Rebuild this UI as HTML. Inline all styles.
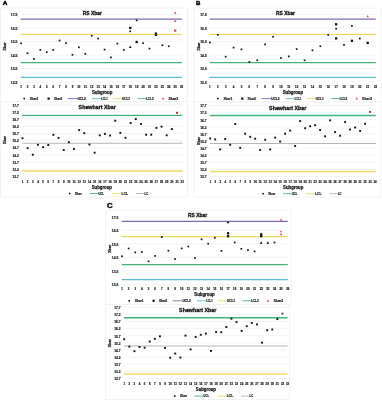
<!DOCTYPE html><html><head><meta charset="utf-8"><style>html,body{margin:0;padding:0;background:#fff;}svg{display:block;filter:blur(0.3px);}</style></head><body><svg width="382" height="400" viewBox="0 0 382 400" style="font-family:'Liberation Sans', sans-serif">
<rect width="382" height="400" fill="#fff"/>
<text x="2.70" y="5.20" font-size="5.4" font-weight="bold" fill="#111" stroke="#111" stroke-width="0.5" textLength="4.60" lengthAdjust="spacingAndGlyphs">A</text>
<text x="195.90" y="5.40" font-size="5.6" font-weight="bold" fill="#111" stroke="#111" stroke-width="0.5" textLength="4.40" lengthAdjust="spacingAndGlyphs">B</text>
<text x="107.00" y="208.00" font-size="6.4" font-weight="bold" fill="#111" stroke="#111" stroke-width="0.5" textLength="5.60" lengthAdjust="spacingAndGlyphs">C</text>
<rect x="0.50" y="8.00" width="187.10" height="93.70" fill="none" stroke="#f1f1f1" stroke-width="0.8"/>
<line x1="20.80" y1="14.60" x2="181.90" y2="14.60" stroke="#f0f0f0" stroke-width="0.8"/>
<text x="10.80" y="16.40" font-size="3.7" font-weight="bold" fill="#2a2a2a" stroke="#2a2a2a" stroke-width="0.22" textLength="6.60" lengthAdjust="spacingAndGlyphs">17.5</text>
<line x1="20.80" y1="28.10" x2="181.90" y2="28.10" stroke="#f0f0f0" stroke-width="0.8"/>
<text x="10.80" y="29.90" font-size="3.7" font-weight="bold" fill="#2a2a2a" stroke="#2a2a2a" stroke-width="0.22" textLength="6.60" lengthAdjust="spacingAndGlyphs">16.5</text>
<line x1="20.80" y1="41.60" x2="181.90" y2="41.60" stroke="#f0f0f0" stroke-width="0.8"/>
<text x="10.80" y="43.40" font-size="3.7" font-weight="bold" fill="#2a2a2a" stroke="#2a2a2a" stroke-width="0.22" textLength="6.60" lengthAdjust="spacingAndGlyphs">15.5</text>
<line x1="20.80" y1="55.10" x2="181.90" y2="55.10" stroke="#f0f0f0" stroke-width="0.8"/>
<text x="10.80" y="56.90" font-size="3.7" font-weight="bold" fill="#2a2a2a" stroke="#2a2a2a" stroke-width="0.22" textLength="6.60" lengthAdjust="spacingAndGlyphs">14.5</text>
<line x1="20.80" y1="68.60" x2="181.90" y2="68.60" stroke="#f0f0f0" stroke-width="0.8"/>
<text x="10.80" y="70.40" font-size="3.7" font-weight="bold" fill="#2a2a2a" stroke="#2a2a2a" stroke-width="0.22" textLength="6.60" lengthAdjust="spacingAndGlyphs">13.5</text>
<line x1="20.80" y1="82.10" x2="181.90" y2="82.10" stroke="#f0f0f0" stroke-width="0.8"/>
<text x="10.80" y="83.90" font-size="3.7" font-weight="bold" fill="#2a2a2a" stroke="#2a2a2a" stroke-width="0.22" textLength="6.60" lengthAdjust="spacingAndGlyphs">12.5</text>
<line x1="20.80" y1="19.10" x2="181.90" y2="19.10" stroke="#7a6cae" stroke-width="1.25"/>
<line x1="20.80" y1="34.40" x2="181.90" y2="34.40" stroke="#f0d868" stroke-width="1.4"/>
<line x1="20.80" y1="62.50" x2="181.90" y2="62.50" stroke="#48b07c" stroke-width="1.25"/>
<line x1="20.80" y1="77.40" x2="181.90" y2="77.40" stroke="#58bcd4" stroke-width="1.25"/>
<text x="20.30" y="88.00" font-size="3.5" font-weight="bold" fill="#2a2a2a" stroke="#2a2a2a" stroke-width="0.22" textLength="1.60" lengthAdjust="spacingAndGlyphs">1</text>
<text x="26.72" y="88.00" font-size="3.5" font-weight="bold" fill="#2a2a2a" stroke="#2a2a2a" stroke-width="0.22" textLength="1.60" lengthAdjust="spacingAndGlyphs">2</text>
<text x="33.14" y="88.00" font-size="3.5" font-weight="bold" fill="#2a2a2a" stroke="#2a2a2a" stroke-width="0.22" textLength="1.60" lengthAdjust="spacingAndGlyphs">3</text>
<text x="39.56" y="88.00" font-size="3.5" font-weight="bold" fill="#2a2a2a" stroke="#2a2a2a" stroke-width="0.22" textLength="1.60" lengthAdjust="spacingAndGlyphs">4</text>
<text x="45.98" y="88.00" font-size="3.5" font-weight="bold" fill="#2a2a2a" stroke="#2a2a2a" stroke-width="0.22" textLength="1.60" lengthAdjust="spacingAndGlyphs">5</text>
<text x="52.40" y="88.00" font-size="3.5" font-weight="bold" fill="#2a2a2a" stroke="#2a2a2a" stroke-width="0.22" textLength="1.60" lengthAdjust="spacingAndGlyphs">6</text>
<text x="58.82" y="88.00" font-size="3.5" font-weight="bold" fill="#2a2a2a" stroke="#2a2a2a" stroke-width="0.22" textLength="1.60" lengthAdjust="spacingAndGlyphs">7</text>
<text x="65.24" y="88.00" font-size="3.5" font-weight="bold" fill="#2a2a2a" stroke="#2a2a2a" stroke-width="0.22" textLength="1.60" lengthAdjust="spacingAndGlyphs">8</text>
<text x="71.66" y="88.00" font-size="3.5" font-weight="bold" fill="#2a2a2a" stroke="#2a2a2a" stroke-width="0.22" textLength="1.60" lengthAdjust="spacingAndGlyphs">9</text>
<text x="77.28" y="88.00" font-size="3.5" font-weight="bold" fill="#2a2a2a" stroke="#2a2a2a" stroke-width="0.22" textLength="3.20" lengthAdjust="spacingAndGlyphs">10</text>
<text x="83.70" y="88.00" font-size="3.5" font-weight="bold" fill="#2a2a2a" stroke="#2a2a2a" stroke-width="0.22" textLength="3.20" lengthAdjust="spacingAndGlyphs">11</text>
<text x="90.12" y="88.00" font-size="3.5" font-weight="bold" fill="#2a2a2a" stroke="#2a2a2a" stroke-width="0.22" textLength="3.20" lengthAdjust="spacingAndGlyphs">12</text>
<text x="96.54" y="88.00" font-size="3.5" font-weight="bold" fill="#2a2a2a" stroke="#2a2a2a" stroke-width="0.22" textLength="3.20" lengthAdjust="spacingAndGlyphs">13</text>
<text x="102.96" y="88.00" font-size="3.5" font-weight="bold" fill="#2a2a2a" stroke="#2a2a2a" stroke-width="0.22" textLength="3.20" lengthAdjust="spacingAndGlyphs">14</text>
<text x="109.38" y="88.00" font-size="3.5" font-weight="bold" fill="#2a2a2a" stroke="#2a2a2a" stroke-width="0.22" textLength="3.20" lengthAdjust="spacingAndGlyphs">15</text>
<text x="115.80" y="88.00" font-size="3.5" font-weight="bold" fill="#2a2a2a" stroke="#2a2a2a" stroke-width="0.22" textLength="3.20" lengthAdjust="spacingAndGlyphs">16</text>
<text x="122.22" y="88.00" font-size="3.5" font-weight="bold" fill="#2a2a2a" stroke="#2a2a2a" stroke-width="0.22" textLength="3.20" lengthAdjust="spacingAndGlyphs">17</text>
<text x="128.64" y="88.00" font-size="3.5" font-weight="bold" fill="#2a2a2a" stroke="#2a2a2a" stroke-width="0.22" textLength="3.20" lengthAdjust="spacingAndGlyphs">18</text>
<text x="135.06" y="88.00" font-size="3.5" font-weight="bold" fill="#2a2a2a" stroke="#2a2a2a" stroke-width="0.22" textLength="3.20" lengthAdjust="spacingAndGlyphs">19</text>
<text x="141.48" y="88.00" font-size="3.5" font-weight="bold" fill="#2a2a2a" stroke="#2a2a2a" stroke-width="0.22" textLength="3.20" lengthAdjust="spacingAndGlyphs">20</text>
<text x="147.90" y="88.00" font-size="3.5" font-weight="bold" fill="#2a2a2a" stroke="#2a2a2a" stroke-width="0.22" textLength="3.20" lengthAdjust="spacingAndGlyphs">21</text>
<text x="154.32" y="88.00" font-size="3.5" font-weight="bold" fill="#2a2a2a" stroke="#2a2a2a" stroke-width="0.22" textLength="3.20" lengthAdjust="spacingAndGlyphs">22</text>
<text x="160.74" y="88.00" font-size="3.5" font-weight="bold" fill="#2a2a2a" stroke="#2a2a2a" stroke-width="0.22" textLength="3.20" lengthAdjust="spacingAndGlyphs">23</text>
<text x="167.16" y="88.00" font-size="3.5" font-weight="bold" fill="#2a2a2a" stroke="#2a2a2a" stroke-width="0.22" textLength="3.20" lengthAdjust="spacingAndGlyphs">24</text>
<text x="173.58" y="88.00" font-size="3.5" font-weight="bold" fill="#2a2a2a" stroke="#2a2a2a" stroke-width="0.22" textLength="3.20" lengthAdjust="spacingAndGlyphs">25</text>
<text x="180.00" y="88.00" font-size="3.5" font-weight="bold" fill="#2a2a2a" stroke="#2a2a2a" stroke-width="0.22" textLength="3.20" lengthAdjust="spacingAndGlyphs">26</text>
<text x="82.80" y="14.60" font-size="5.6" font-weight="bold" fill="#111" stroke="#111" stroke-width="0.3" textLength="19.00" lengthAdjust="spacingAndGlyphs">RS Xbar</text>
<text x="0" y="0" font-size="4.3" font-weight="bold" fill="#2a2a2a" stroke="#2a2a2a" stroke-width="0.3" textLength="8.00" lengthAdjust="spacingAndGlyphs" transform="translate(5.70,50.40) rotate(-90)">Xbar</text>
<text x="91.90" y="94.00" font-size="5.1" font-weight="bold" fill="#111" stroke="#111" stroke-width="0.25" textLength="20.40" lengthAdjust="spacingAndGlyphs">Subgroup</text>
<rect x="20.25" y="42.45" width="1.70" height="1.70" fill="#111"/>
<rect x="26.67" y="52.35" width="1.70" height="1.70" fill="#111"/>
<rect x="33.09" y="58.15" width="1.70" height="1.70" fill="#111"/>
<rect x="39.51" y="49.05" width="1.70" height="1.70" fill="#111"/>
<rect x="45.93" y="51.35" width="1.70" height="1.70" fill="#111"/>
<rect x="52.35" y="49.05" width="1.70" height="1.70" fill="#111"/>
<rect x="58.77" y="39.65" width="1.70" height="1.70" fill="#111"/>
<rect x="65.19" y="42.25" width="1.70" height="1.70" fill="#111"/>
<rect x="71.61" y="53.95" width="1.70" height="1.70" fill="#111"/>
<rect x="78.03" y="46.45" width="1.70" height="1.70" fill="#111"/>
<rect x="84.45" y="52.95" width="1.70" height="1.70" fill="#111"/>
<rect x="90.87" y="34.85" width="1.70" height="1.70" fill="#111"/>
<rect x="97.29" y="37.75" width="1.70" height="1.70" fill="#111"/>
<rect x="103.71" y="48.75" width="1.70" height="1.70" fill="#111"/>
<rect x="110.13" y="56.55" width="1.70" height="1.70" fill="#111"/>
<rect x="116.55" y="42.75" width="1.70" height="1.70" fill="#111"/>
<rect x="122.97" y="49.05" width="1.70" height="1.70" fill="#111"/>
<rect x="129.09" y="26.75" width="2.30" height="2.30" fill="#111"/>
<rect x="129.39" y="30.45" width="1.70" height="1.70" fill="#111"/>
<path d="M130.24 45.60L131.64 48.12L128.84 48.12Z" fill="#111"/>
<rect x="135.81" y="19.55" width="1.70" height="1.70" fill="#111"/>
<rect x="135.51" y="40.85" width="2.30" height="2.30" fill="#111"/>
<rect x="142.23" y="42.25" width="1.70" height="1.70" fill="#111"/>
<rect x="148.65" y="47.75" width="1.70" height="1.70" fill="#111"/>
<rect x="154.77" y="32.45" width="2.30" height="2.30" fill="#111"/>
<path d="M155.92 33.40L157.32 35.92L154.52 35.92Z" fill="#111"/>
<rect x="161.49" y="44.40" width="1.70" height="1.70" fill="#111"/>
<rect x="167.91" y="45.40" width="1.70" height="1.70" fill="#111"/>
<path d="M175.18 11.55L176.38 13.71L173.98 13.71Z" fill="#d8404a"/>
<path d="M175.18 19.80L176.38 21.96L173.98 21.96Z" fill="#d8404a"/>
<rect x="174.08" y="29.50" width="2.20" height="2.20" fill="#d8404a"/>
<rect x="23.40" y="97.80" width="1.60" height="1.60" fill="#111"/>
<text x="29.70" y="99.90" font-size="3.5" font-weight="bold" fill="#2a2a2a" stroke="#2a2a2a" stroke-width="0.22" textLength="8.90" lengthAdjust="spacingAndGlyphs">Xbar1</text>
<rect x="47.50" y="97.50" width="2.20" height="2.20" fill="#111"/>
<text x="53.90" y="99.90" font-size="3.5" font-weight="bold" fill="#2a2a2a" stroke="#2a2a2a" stroke-width="0.22" textLength="8.40" lengthAdjust="spacingAndGlyphs">Xbar2</text>
<line x1="67.60" y1="98.60" x2="77.50" y2="98.60" stroke="#7a6cae" stroke-width="0.9"/>
<text x="77.50" y="99.90" font-size="3.5" font-weight="bold" fill="#2a2a2a" stroke="#2a2a2a" stroke-width="0.22" textLength="8.40" lengthAdjust="spacingAndGlyphs">UCL2</text>
<line x1="91.90" y1="98.60" x2="100.90" y2="98.60" stroke="#58bcd4" stroke-width="0.9"/>
<text x="101.10" y="99.90" font-size="3.5" font-weight="bold" fill="#2a2a2a" stroke="#2a2a2a" stroke-width="0.22" textLength="6.50" lengthAdjust="spacingAndGlyphs">LCL1</text>
<line x1="112.90" y1="98.60" x2="122.00" y2="98.60" stroke="#f0d868" stroke-width="0.9"/>
<text x="122.00" y="99.90" font-size="3.5" font-weight="bold" fill="#2a2a2a" stroke="#2a2a2a" stroke-width="0.22" textLength="8.00" lengthAdjust="spacingAndGlyphs">UCL1</text>
<line x1="137.60" y1="98.60" x2="146.00" y2="98.60" stroke="#48b07c" stroke-width="0.9"/>
<text x="146.00" y="99.90" font-size="3.5" font-weight="bold" fill="#2a2a2a" stroke="#2a2a2a" stroke-width="0.22" textLength="7.60" lengthAdjust="spacingAndGlyphs">LCL2</text>
<path d="M163.10 97.35L164.35 99.60L161.85 99.60Z" fill="#d8404a"/>
<text x="168.40" y="99.90" font-size="3.5" font-weight="bold" fill="#2a2a2a" stroke="#2a2a2a" stroke-width="0.22" textLength="9.80" lengthAdjust="spacingAndGlyphs">Xbar3</text>
<rect x="194.00" y="8.10" width="186.80" height="93.80" fill="none" stroke="#f1f1f1" stroke-width="0.8"/>
<line x1="209.60" y1="14.60" x2="375.80" y2="14.60" stroke="#f0f0f0" stroke-width="0.8"/>
<text x="200.20" y="16.40" font-size="3.7" font-weight="bold" fill="#2a2a2a" stroke="#2a2a2a" stroke-width="0.22" textLength="6.60" lengthAdjust="spacingAndGlyphs">17.5</text>
<line x1="209.60" y1="28.10" x2="375.80" y2="28.10" stroke="#f0f0f0" stroke-width="0.8"/>
<text x="200.20" y="29.90" font-size="3.7" font-weight="bold" fill="#2a2a2a" stroke="#2a2a2a" stroke-width="0.22" textLength="6.60" lengthAdjust="spacingAndGlyphs">16.5</text>
<line x1="209.60" y1="41.60" x2="375.80" y2="41.60" stroke="#f0f0f0" stroke-width="0.8"/>
<text x="200.20" y="43.40" font-size="3.7" font-weight="bold" fill="#2a2a2a" stroke="#2a2a2a" stroke-width="0.22" textLength="6.60" lengthAdjust="spacingAndGlyphs">15.5</text>
<line x1="209.60" y1="55.10" x2="375.80" y2="55.10" stroke="#f0f0f0" stroke-width="0.8"/>
<text x="200.20" y="56.90" font-size="3.7" font-weight="bold" fill="#2a2a2a" stroke="#2a2a2a" stroke-width="0.22" textLength="6.60" lengthAdjust="spacingAndGlyphs">14.5</text>
<line x1="209.60" y1="68.60" x2="375.80" y2="68.60" stroke="#f0f0f0" stroke-width="0.8"/>
<text x="200.20" y="70.40" font-size="3.7" font-weight="bold" fill="#2a2a2a" stroke="#2a2a2a" stroke-width="0.22" textLength="6.60" lengthAdjust="spacingAndGlyphs">13.5</text>
<line x1="209.60" y1="82.10" x2="375.80" y2="82.10" stroke="#f0f0f0" stroke-width="0.8"/>
<text x="200.20" y="83.90" font-size="3.7" font-weight="bold" fill="#2a2a2a" stroke="#2a2a2a" stroke-width="0.22" textLength="6.60" lengthAdjust="spacingAndGlyphs">12.5</text>
<line x1="209.60" y1="19.10" x2="375.80" y2="19.10" stroke="#7a6cae" stroke-width="1.25"/>
<line x1="209.60" y1="34.40" x2="375.80" y2="34.40" stroke="#f0d868" stroke-width="1.4"/>
<line x1="209.60" y1="62.50" x2="375.80" y2="62.50" stroke="#48b07c" stroke-width="1.25"/>
<line x1="209.60" y1="77.40" x2="375.80" y2="77.40" stroke="#58bcd4" stroke-width="1.25"/>
<text x="209.10" y="88.00" font-size="3.5" font-weight="bold" fill="#2a2a2a" stroke="#2a2a2a" stroke-width="0.22" textLength="1.60" lengthAdjust="spacingAndGlyphs">1</text>
<text x="216.99" y="88.00" font-size="3.5" font-weight="bold" fill="#2a2a2a" stroke="#2a2a2a" stroke-width="0.22" textLength="1.60" lengthAdjust="spacingAndGlyphs">2</text>
<text x="224.88" y="88.00" font-size="3.5" font-weight="bold" fill="#2a2a2a" stroke="#2a2a2a" stroke-width="0.22" textLength="1.60" lengthAdjust="spacingAndGlyphs">3</text>
<text x="232.77" y="88.00" font-size="3.5" font-weight="bold" fill="#2a2a2a" stroke="#2a2a2a" stroke-width="0.22" textLength="1.60" lengthAdjust="spacingAndGlyphs">4</text>
<text x="240.66" y="88.00" font-size="3.5" font-weight="bold" fill="#2a2a2a" stroke="#2a2a2a" stroke-width="0.22" textLength="1.60" lengthAdjust="spacingAndGlyphs">5</text>
<text x="248.55" y="88.00" font-size="3.5" font-weight="bold" fill="#2a2a2a" stroke="#2a2a2a" stroke-width="0.22" textLength="1.60" lengthAdjust="spacingAndGlyphs">6</text>
<text x="256.44" y="88.00" font-size="3.5" font-weight="bold" fill="#2a2a2a" stroke="#2a2a2a" stroke-width="0.22" textLength="1.60" lengthAdjust="spacingAndGlyphs">7</text>
<text x="264.33" y="88.00" font-size="3.5" font-weight="bold" fill="#2a2a2a" stroke="#2a2a2a" stroke-width="0.22" textLength="1.60" lengthAdjust="spacingAndGlyphs">8</text>
<text x="272.22" y="88.00" font-size="3.5" font-weight="bold" fill="#2a2a2a" stroke="#2a2a2a" stroke-width="0.22" textLength="1.60" lengthAdjust="spacingAndGlyphs">9</text>
<text x="279.31" y="88.00" font-size="3.5" font-weight="bold" fill="#2a2a2a" stroke="#2a2a2a" stroke-width="0.22" textLength="3.20" lengthAdjust="spacingAndGlyphs">10</text>
<text x="287.20" y="88.00" font-size="3.5" font-weight="bold" fill="#2a2a2a" stroke="#2a2a2a" stroke-width="0.22" textLength="3.20" lengthAdjust="spacingAndGlyphs">11</text>
<text x="295.09" y="88.00" font-size="3.5" font-weight="bold" fill="#2a2a2a" stroke="#2a2a2a" stroke-width="0.22" textLength="3.20" lengthAdjust="spacingAndGlyphs">12</text>
<text x="302.98" y="88.00" font-size="3.5" font-weight="bold" fill="#2a2a2a" stroke="#2a2a2a" stroke-width="0.22" textLength="3.20" lengthAdjust="spacingAndGlyphs">13</text>
<text x="310.87" y="88.00" font-size="3.5" font-weight="bold" fill="#2a2a2a" stroke="#2a2a2a" stroke-width="0.22" textLength="3.20" lengthAdjust="spacingAndGlyphs">14</text>
<text x="318.76" y="88.00" font-size="3.5" font-weight="bold" fill="#2a2a2a" stroke="#2a2a2a" stroke-width="0.22" textLength="3.20" lengthAdjust="spacingAndGlyphs">15</text>
<text x="326.65" y="88.00" font-size="3.5" font-weight="bold" fill="#2a2a2a" stroke="#2a2a2a" stroke-width="0.22" textLength="3.20" lengthAdjust="spacingAndGlyphs">16</text>
<text x="334.54" y="88.00" font-size="3.5" font-weight="bold" fill="#2a2a2a" stroke="#2a2a2a" stroke-width="0.22" textLength="3.20" lengthAdjust="spacingAndGlyphs">17</text>
<text x="342.43" y="88.00" font-size="3.5" font-weight="bold" fill="#2a2a2a" stroke="#2a2a2a" stroke-width="0.22" textLength="3.20" lengthAdjust="spacingAndGlyphs">18</text>
<text x="350.32" y="88.00" font-size="3.5" font-weight="bold" fill="#2a2a2a" stroke="#2a2a2a" stroke-width="0.22" textLength="3.20" lengthAdjust="spacingAndGlyphs">19</text>
<text x="358.21" y="88.00" font-size="3.5" font-weight="bold" fill="#2a2a2a" stroke="#2a2a2a" stroke-width="0.22" textLength="3.20" lengthAdjust="spacingAndGlyphs">20</text>
<text x="366.10" y="88.00" font-size="3.5" font-weight="bold" fill="#2a2a2a" stroke="#2a2a2a" stroke-width="0.22" textLength="3.20" lengthAdjust="spacingAndGlyphs">21</text>
<text x="373.99" y="88.00" font-size="3.5" font-weight="bold" fill="#2a2a2a" stroke="#2a2a2a" stroke-width="0.22" textLength="3.20" lengthAdjust="spacingAndGlyphs">22</text>
<text x="276.00" y="14.60" font-size="5.6" font-weight="bold" fill="#111" stroke="#111" stroke-width="0.3" textLength="19.00" lengthAdjust="spacingAndGlyphs">RS Xbar</text>
<text x="0" y="0" font-size="4.3" font-weight="bold" fill="#2a2a2a" stroke="#2a2a2a" stroke-width="0.3" textLength="8.00" lengthAdjust="spacingAndGlyphs" transform="translate(199.70,50.50) rotate(-90)">Xbar</text>
<text x="282.70" y="94.00" font-size="5.1" font-weight="bold" fill="#111" stroke="#111" stroke-width="0.25" textLength="20.40" lengthAdjust="spacingAndGlyphs">Subgroup</text>
<rect x="209.05" y="41.65" width="1.70" height="1.70" fill="#111"/>
<rect x="216.94" y="33.95" width="1.70" height="1.70" fill="#111"/>
<rect x="224.83" y="55.85" width="1.70" height="1.70" fill="#111"/>
<rect x="232.72" y="46.75" width="1.70" height="1.70" fill="#111"/>
<rect x="240.61" y="48.55" width="1.70" height="1.70" fill="#111"/>
<rect x="248.50" y="61.15" width="1.70" height="1.70" fill="#111"/>
<rect x="256.39" y="59.45" width="1.70" height="1.70" fill="#111"/>
<rect x="264.28" y="43.55" width="1.70" height="1.70" fill="#111"/>
<rect x="272.17" y="35.95" width="1.70" height="1.70" fill="#111"/>
<rect x="280.06" y="57.15" width="1.70" height="1.70" fill="#111"/>
<rect x="287.95" y="55.55" width="1.70" height="1.70" fill="#111"/>
<rect x="295.84" y="48.25" width="1.70" height="1.70" fill="#111"/>
<rect x="303.73" y="59.45" width="1.70" height="1.70" fill="#111"/>
<rect x="311.62" y="49.45" width="1.70" height="1.70" fill="#111"/>
<rect x="319.51" y="45.35" width="1.70" height="1.70" fill="#111"/>
<rect x="327.40" y="34.05" width="1.70" height="1.70" fill="#111"/>
<rect x="334.99" y="23.15" width="2.30" height="2.30" fill="#111"/>
<rect x="335.29" y="27.85" width="1.70" height="1.70" fill="#111"/>
<rect x="334.99" y="37.25" width="2.30" height="2.30" fill="#111"/>
<rect x="343.18" y="44.05" width="1.70" height="1.70" fill="#111"/>
<rect x="351.07" y="25.05" width="1.70" height="1.70" fill="#111"/>
<rect x="350.77" y="39.65" width="2.30" height="2.30" fill="#111"/>
<rect x="358.96" y="37.65" width="1.70" height="1.70" fill="#111"/>
<path d="M367.70 15.10L368.90 17.26L366.50 17.26Z" fill="#d8404a"/>
<rect x="366.55" y="41.75" width="2.30" height="2.30" fill="#111"/>
<rect x="217.10" y="97.80" width="1.60" height="1.60" fill="#111"/>
<text x="223.40" y="99.90" font-size="3.5" font-weight="bold" fill="#2a2a2a" stroke="#2a2a2a" stroke-width="0.22" textLength="8.90" lengthAdjust="spacingAndGlyphs">Xbar1</text>
<rect x="241.20" y="97.50" width="2.20" height="2.20" fill="#111"/>
<text x="247.60" y="99.90" font-size="3.5" font-weight="bold" fill="#2a2a2a" stroke="#2a2a2a" stroke-width="0.22" textLength="8.40" lengthAdjust="spacingAndGlyphs">Xbar2</text>
<line x1="261.30" y1="98.60" x2="271.20" y2="98.60" stroke="#7a6cae" stroke-width="0.9"/>
<text x="271.20" y="99.90" font-size="3.5" font-weight="bold" fill="#2a2a2a" stroke="#2a2a2a" stroke-width="0.22" textLength="8.40" lengthAdjust="spacingAndGlyphs">UCL2</text>
<line x1="285.60" y1="98.60" x2="294.60" y2="98.60" stroke="#58bcd4" stroke-width="0.9"/>
<text x="294.80" y="99.90" font-size="3.5" font-weight="bold" fill="#2a2a2a" stroke="#2a2a2a" stroke-width="0.22" textLength="6.50" lengthAdjust="spacingAndGlyphs">LCL1</text>
<line x1="306.60" y1="98.60" x2="315.70" y2="98.60" stroke="#f0d868" stroke-width="0.9"/>
<text x="315.70" y="99.90" font-size="3.5" font-weight="bold" fill="#2a2a2a" stroke="#2a2a2a" stroke-width="0.22" textLength="8.00" lengthAdjust="spacingAndGlyphs">UCL1</text>
<line x1="331.30" y1="98.60" x2="339.70" y2="98.60" stroke="#48b07c" stroke-width="0.9"/>
<text x="339.70" y="99.90" font-size="3.5" font-weight="bold" fill="#2a2a2a" stroke="#2a2a2a" stroke-width="0.22" textLength="7.60" lengthAdjust="spacingAndGlyphs">LCL2</text>
<path d="M356.80 97.35L358.05 99.60L355.55 99.60Z" fill="#d8404a"/>
<text x="362.10" y="99.90" font-size="3.5" font-weight="bold" fill="#2a2a2a" stroke="#2a2a2a" stroke-width="0.22" textLength="9.80" lengthAdjust="spacingAndGlyphs">Xbar3</text>
<rect x="105.50" y="210.30" width="185.80" height="94.30" fill="none" stroke="#f1f1f1" stroke-width="0.8"/>
<line x1="121.70" y1="216.80" x2="287.80" y2="216.80" stroke="#f0f0f0" stroke-width="0.8"/>
<text x="111.80" y="218.60" font-size="3.7" font-weight="bold" fill="#2a2a2a" stroke="#2a2a2a" stroke-width="0.22" textLength="6.60" lengthAdjust="spacingAndGlyphs">17.5</text>
<line x1="121.70" y1="230.30" x2="287.80" y2="230.30" stroke="#f0f0f0" stroke-width="0.8"/>
<text x="111.80" y="232.10" font-size="3.7" font-weight="bold" fill="#2a2a2a" stroke="#2a2a2a" stroke-width="0.22" textLength="6.60" lengthAdjust="spacingAndGlyphs">16.5</text>
<line x1="121.70" y1="243.80" x2="287.80" y2="243.80" stroke="#f0f0f0" stroke-width="0.8"/>
<text x="111.80" y="245.60" font-size="3.7" font-weight="bold" fill="#2a2a2a" stroke="#2a2a2a" stroke-width="0.22" textLength="6.60" lengthAdjust="spacingAndGlyphs">15.5</text>
<line x1="121.70" y1="257.30" x2="287.80" y2="257.30" stroke="#f0f0f0" stroke-width="0.8"/>
<text x="111.80" y="259.10" font-size="3.7" font-weight="bold" fill="#2a2a2a" stroke="#2a2a2a" stroke-width="0.22" textLength="6.60" lengthAdjust="spacingAndGlyphs">14.5</text>
<line x1="121.70" y1="270.80" x2="287.80" y2="270.80" stroke="#f0f0f0" stroke-width="0.8"/>
<text x="111.80" y="272.60" font-size="3.7" font-weight="bold" fill="#2a2a2a" stroke="#2a2a2a" stroke-width="0.22" textLength="6.60" lengthAdjust="spacingAndGlyphs">13.5</text>
<line x1="121.70" y1="284.30" x2="287.80" y2="284.30" stroke="#f0f0f0" stroke-width="0.8"/>
<text x="111.80" y="286.10" font-size="3.7" font-weight="bold" fill="#2a2a2a" stroke="#2a2a2a" stroke-width="0.22" textLength="6.60" lengthAdjust="spacingAndGlyphs">12.5</text>
<line x1="121.70" y1="221.30" x2="287.80" y2="221.30" stroke="#7a6cae" stroke-width="1.25"/>
<line x1="121.70" y1="236.60" x2="287.80" y2="236.60" stroke="#f0d868" stroke-width="1.4"/>
<line x1="121.70" y1="264.70" x2="287.80" y2="264.70" stroke="#48b07c" stroke-width="1.25"/>
<line x1="121.70" y1="279.60" x2="287.80" y2="279.60" stroke="#58bcd4" stroke-width="1.25"/>
<text x="121.20" y="290.20" font-size="3.5" font-weight="bold" fill="#2a2a2a" stroke="#2a2a2a" stroke-width="0.22" textLength="1.60" lengthAdjust="spacingAndGlyphs">1</text>
<text x="127.83" y="290.20" font-size="3.5" font-weight="bold" fill="#2a2a2a" stroke="#2a2a2a" stroke-width="0.22" textLength="1.60" lengthAdjust="spacingAndGlyphs">2</text>
<text x="134.46" y="290.20" font-size="3.5" font-weight="bold" fill="#2a2a2a" stroke="#2a2a2a" stroke-width="0.22" textLength="1.60" lengthAdjust="spacingAndGlyphs">3</text>
<text x="141.09" y="290.20" font-size="3.5" font-weight="bold" fill="#2a2a2a" stroke="#2a2a2a" stroke-width="0.22" textLength="1.60" lengthAdjust="spacingAndGlyphs">4</text>
<text x="147.72" y="290.20" font-size="3.5" font-weight="bold" fill="#2a2a2a" stroke="#2a2a2a" stroke-width="0.22" textLength="1.60" lengthAdjust="spacingAndGlyphs">5</text>
<text x="154.35" y="290.20" font-size="3.5" font-weight="bold" fill="#2a2a2a" stroke="#2a2a2a" stroke-width="0.22" textLength="1.60" lengthAdjust="spacingAndGlyphs">6</text>
<text x="160.98" y="290.20" font-size="3.5" font-weight="bold" fill="#2a2a2a" stroke="#2a2a2a" stroke-width="0.22" textLength="1.60" lengthAdjust="spacingAndGlyphs">7</text>
<text x="167.61" y="290.20" font-size="3.5" font-weight="bold" fill="#2a2a2a" stroke="#2a2a2a" stroke-width="0.22" textLength="1.60" lengthAdjust="spacingAndGlyphs">8</text>
<text x="174.24" y="290.20" font-size="3.5" font-weight="bold" fill="#2a2a2a" stroke="#2a2a2a" stroke-width="0.22" textLength="1.60" lengthAdjust="spacingAndGlyphs">9</text>
<text x="180.07" y="290.20" font-size="3.5" font-weight="bold" fill="#2a2a2a" stroke="#2a2a2a" stroke-width="0.22" textLength="3.20" lengthAdjust="spacingAndGlyphs">10</text>
<text x="186.70" y="290.20" font-size="3.5" font-weight="bold" fill="#2a2a2a" stroke="#2a2a2a" stroke-width="0.22" textLength="3.20" lengthAdjust="spacingAndGlyphs">11</text>
<text x="193.33" y="290.20" font-size="3.5" font-weight="bold" fill="#2a2a2a" stroke="#2a2a2a" stroke-width="0.22" textLength="3.20" lengthAdjust="spacingAndGlyphs">12</text>
<text x="199.96" y="290.20" font-size="3.5" font-weight="bold" fill="#2a2a2a" stroke="#2a2a2a" stroke-width="0.22" textLength="3.20" lengthAdjust="spacingAndGlyphs">13</text>
<text x="206.59" y="290.20" font-size="3.5" font-weight="bold" fill="#2a2a2a" stroke="#2a2a2a" stroke-width="0.22" textLength="3.20" lengthAdjust="spacingAndGlyphs">14</text>
<text x="213.22" y="290.20" font-size="3.5" font-weight="bold" fill="#2a2a2a" stroke="#2a2a2a" stroke-width="0.22" textLength="3.20" lengthAdjust="spacingAndGlyphs">15</text>
<text x="219.85" y="290.20" font-size="3.5" font-weight="bold" fill="#2a2a2a" stroke="#2a2a2a" stroke-width="0.22" textLength="3.20" lengthAdjust="spacingAndGlyphs">16</text>
<text x="226.48" y="290.20" font-size="3.5" font-weight="bold" fill="#2a2a2a" stroke="#2a2a2a" stroke-width="0.22" textLength="3.20" lengthAdjust="spacingAndGlyphs">17</text>
<text x="233.11" y="290.20" font-size="3.5" font-weight="bold" fill="#2a2a2a" stroke="#2a2a2a" stroke-width="0.22" textLength="3.20" lengthAdjust="spacingAndGlyphs">18</text>
<text x="239.74" y="290.20" font-size="3.5" font-weight="bold" fill="#2a2a2a" stroke="#2a2a2a" stroke-width="0.22" textLength="3.20" lengthAdjust="spacingAndGlyphs">19</text>
<text x="246.37" y="290.20" font-size="3.5" font-weight="bold" fill="#2a2a2a" stroke="#2a2a2a" stroke-width="0.22" textLength="3.20" lengthAdjust="spacingAndGlyphs">20</text>
<text x="253.00" y="290.20" font-size="3.5" font-weight="bold" fill="#2a2a2a" stroke="#2a2a2a" stroke-width="0.22" textLength="3.20" lengthAdjust="spacingAndGlyphs">21</text>
<text x="259.63" y="290.20" font-size="3.5" font-weight="bold" fill="#2a2a2a" stroke="#2a2a2a" stroke-width="0.22" textLength="3.20" lengthAdjust="spacingAndGlyphs">22</text>
<text x="266.26" y="290.20" font-size="3.5" font-weight="bold" fill="#2a2a2a" stroke="#2a2a2a" stroke-width="0.22" textLength="3.20" lengthAdjust="spacingAndGlyphs">23</text>
<text x="272.89" y="290.20" font-size="3.5" font-weight="bold" fill="#2a2a2a" stroke="#2a2a2a" stroke-width="0.22" textLength="3.20" lengthAdjust="spacingAndGlyphs">24</text>
<text x="279.52" y="290.20" font-size="3.5" font-weight="bold" fill="#2a2a2a" stroke="#2a2a2a" stroke-width="0.22" textLength="3.20" lengthAdjust="spacingAndGlyphs">25</text>
<text x="286.15" y="290.20" font-size="3.5" font-weight="bold" fill="#2a2a2a" stroke="#2a2a2a" stroke-width="0.22" textLength="3.20" lengthAdjust="spacingAndGlyphs">26</text>
<text x="188.10" y="216.80" font-size="5.6" font-weight="bold" fill="#111" stroke="#111" stroke-width="0.3" textLength="19.00" lengthAdjust="spacingAndGlyphs">RS Xbar</text>
<text x="0" y="0" font-size="4.3" font-weight="bold" fill="#2a2a2a" stroke="#2a2a2a" stroke-width="0.3" textLength="8.00" lengthAdjust="spacingAndGlyphs" transform="translate(110.80,252.80) rotate(-90)">Xbar</text>
<text x="194.30" y="296.20" font-size="5.1" font-weight="bold" fill="#111" stroke="#111" stroke-width="0.25" textLength="20.40" lengthAdjust="spacingAndGlyphs">Subgroup</text>
<rect x="121.15" y="255.45" width="1.70" height="1.70" fill="#111"/>
<rect x="127.78" y="247.65" width="1.70" height="1.70" fill="#111"/>
<rect x="134.41" y="251.55" width="1.70" height="1.70" fill="#111"/>
<rect x="141.04" y="251.15" width="1.70" height="1.70" fill="#111"/>
<rect x="147.67" y="260.55" width="1.70" height="1.70" fill="#111"/>
<rect x="154.30" y="255.05" width="1.70" height="1.70" fill="#111"/>
<rect x="160.93" y="236.25" width="1.70" height="1.70" fill="#111"/>
<rect x="167.56" y="249.85" width="1.70" height="1.70" fill="#111"/>
<rect x="174.19" y="258.15" width="1.70" height="1.70" fill="#111"/>
<rect x="180.82" y="247.55" width="1.70" height="1.70" fill="#111"/>
<rect x="187.45" y="245.65" width="1.70" height="1.70" fill="#111"/>
<rect x="194.08" y="257.25" width="1.70" height="1.70" fill="#111"/>
<rect x="200.71" y="238.45" width="1.70" height="1.70" fill="#111"/>
<rect x="207.34" y="242.85" width="1.70" height="1.70" fill="#111"/>
<rect x="213.97" y="236.85" width="1.70" height="1.70" fill="#111"/>
<rect x="220.60" y="250.05" width="1.70" height="1.70" fill="#111"/>
<path d="M228.08 220.80L229.48 223.32L226.68 223.32Z" fill="#111"/>
<rect x="226.93" y="232.15" width="2.30" height="2.30" fill="#111"/>
<rect x="226.93" y="235.05" width="2.30" height="2.30" fill="#111"/>
<rect x="233.86" y="241.65" width="1.70" height="1.70" fill="#111"/>
<rect x="240.49" y="247.95" width="1.70" height="1.70" fill="#111"/>
<rect x="247.12" y="249.25" width="1.70" height="1.70" fill="#111"/>
<rect x="253.75" y="250.55" width="1.70" height="1.70" fill="#111"/>
<rect x="260.08" y="233.25" width="2.30" height="2.30" fill="#111"/>
<rect x="260.08" y="235.05" width="2.30" height="2.30" fill="#111"/>
<path d="M261.23 241.30L262.63 243.82L259.83 243.82Z" fill="#111"/>
<path d="M267.86 241.30L269.26 243.82L266.46 243.82Z" fill="#111"/>
<rect x="273.64" y="241.65" width="1.70" height="1.70" fill="#111"/>
<path d="M281.12 218.40L282.32 220.56L279.92 220.56Z" fill="#d8404a"/>
<path d="M281.12 230.20L282.32 232.36L279.92 232.36Z" fill="#d8404a"/>
<path d="M281.12 233.10L282.32 235.26L279.92 235.26Z" fill="#d8404a"/>
<rect x="128.40" y="300.00" width="1.60" height="1.60" fill="#111"/>
<text x="134.70" y="302.10" font-size="3.5" font-weight="bold" fill="#2a2a2a" stroke="#2a2a2a" stroke-width="0.22" textLength="8.90" lengthAdjust="spacingAndGlyphs">Xbar1</text>
<rect x="152.50" y="299.70" width="2.20" height="2.20" fill="#111"/>
<text x="158.90" y="302.10" font-size="3.5" font-weight="bold" fill="#2a2a2a" stroke="#2a2a2a" stroke-width="0.22" textLength="8.40" lengthAdjust="spacingAndGlyphs">Xbar2</text>
<line x1="172.60" y1="300.80" x2="182.50" y2="300.80" stroke="#7a6cae" stroke-width="0.9"/>
<text x="182.50" y="302.10" font-size="3.5" font-weight="bold" fill="#2a2a2a" stroke="#2a2a2a" stroke-width="0.22" textLength="8.40" lengthAdjust="spacingAndGlyphs">UCL2</text>
<line x1="196.90" y1="300.80" x2="205.90" y2="300.80" stroke="#58bcd4" stroke-width="0.9"/>
<text x="206.10" y="302.10" font-size="3.5" font-weight="bold" fill="#2a2a2a" stroke="#2a2a2a" stroke-width="0.22" textLength="6.50" lengthAdjust="spacingAndGlyphs">LCL1</text>
<line x1="217.90" y1="300.80" x2="227.00" y2="300.80" stroke="#f0d868" stroke-width="0.9"/>
<text x="227.00" y="302.10" font-size="3.5" font-weight="bold" fill="#2a2a2a" stroke="#2a2a2a" stroke-width="0.22" textLength="8.00" lengthAdjust="spacingAndGlyphs">UCL1</text>
<line x1="242.60" y1="300.80" x2="251.00" y2="300.80" stroke="#48b07c" stroke-width="0.9"/>
<text x="251.00" y="302.10" font-size="3.5" font-weight="bold" fill="#2a2a2a" stroke="#2a2a2a" stroke-width="0.22" textLength="7.60" lengthAdjust="spacingAndGlyphs">LCL2</text>
<path d="M268.10 299.55L269.35 301.80L266.85 301.80Z" fill="#d8404a"/>
<text x="273.40" y="302.10" font-size="3.5" font-weight="bold" fill="#2a2a2a" stroke="#2a2a2a" stroke-width="0.22" textLength="9.80" lengthAdjust="spacingAndGlyphs">Xbar3</text>
<rect x="0.50" y="101.70" width="187.10" height="95.30" fill="none" stroke="#f1f1f1" stroke-width="0.8"/>
<line x1="22.20" y1="104.90" x2="182.50" y2="104.90" stroke="#f0f0f0" stroke-width="0.8"/>
<text x="12.50" y="106.70" font-size="3.7" font-weight="bold" fill="#2a2a2a" stroke="#2a2a2a" stroke-width="0.22" textLength="6.40" lengthAdjust="spacingAndGlyphs">17.7</text>
<line x1="22.20" y1="112.03" x2="182.50" y2="112.03" stroke="#f0f0f0" stroke-width="0.8"/>
<text x="12.50" y="113.83" font-size="3.7" font-weight="bold" fill="#2a2a2a" stroke="#2a2a2a" stroke-width="0.22" textLength="6.40" lengthAdjust="spacingAndGlyphs">17.2</text>
<line x1="22.20" y1="119.16" x2="182.50" y2="119.16" stroke="#f0f0f0" stroke-width="0.8"/>
<text x="12.50" y="120.96" font-size="3.7" font-weight="bold" fill="#2a2a2a" stroke="#2a2a2a" stroke-width="0.22" textLength="6.40" lengthAdjust="spacingAndGlyphs">16.7</text>
<line x1="22.20" y1="126.29" x2="182.50" y2="126.29" stroke="#f0f0f0" stroke-width="0.8"/>
<text x="12.50" y="128.09" font-size="3.7" font-weight="bold" fill="#2a2a2a" stroke="#2a2a2a" stroke-width="0.22" textLength="6.40" lengthAdjust="spacingAndGlyphs">16.2</text>
<line x1="22.20" y1="133.42" x2="182.50" y2="133.42" stroke="#f0f0f0" stroke-width="0.8"/>
<text x="12.50" y="135.22" font-size="3.7" font-weight="bold" fill="#2a2a2a" stroke="#2a2a2a" stroke-width="0.22" textLength="6.40" lengthAdjust="spacingAndGlyphs">15.7</text>
<line x1="22.20" y1="140.55" x2="182.50" y2="140.55" stroke="#f0f0f0" stroke-width="0.8"/>
<text x="12.50" y="142.35" font-size="3.7" font-weight="bold" fill="#2a2a2a" stroke="#2a2a2a" stroke-width="0.22" textLength="6.40" lengthAdjust="spacingAndGlyphs">15.2</text>
<line x1="22.20" y1="147.68" x2="182.50" y2="147.68" stroke="#f0f0f0" stroke-width="0.8"/>
<text x="12.50" y="149.48" font-size="3.7" font-weight="bold" fill="#2a2a2a" stroke="#2a2a2a" stroke-width="0.22" textLength="6.40" lengthAdjust="spacingAndGlyphs">14.7</text>
<line x1="22.20" y1="154.81" x2="182.50" y2="154.81" stroke="#f0f0f0" stroke-width="0.8"/>
<text x="12.50" y="156.61" font-size="3.7" font-weight="bold" fill="#2a2a2a" stroke="#2a2a2a" stroke-width="0.22" textLength="6.40" lengthAdjust="spacingAndGlyphs">14.2</text>
<line x1="22.20" y1="161.94" x2="182.50" y2="161.94" stroke="#f0f0f0" stroke-width="0.8"/>
<text x="12.50" y="163.74" font-size="3.7" font-weight="bold" fill="#2a2a2a" stroke="#2a2a2a" stroke-width="0.22" textLength="6.40" lengthAdjust="spacingAndGlyphs">13.7</text>
<line x1="22.20" y1="169.07" x2="182.50" y2="169.07" stroke="#f0f0f0" stroke-width="0.8"/>
<text x="12.50" y="170.87" font-size="3.7" font-weight="bold" fill="#2a2a2a" stroke="#2a2a2a" stroke-width="0.22" textLength="6.40" lengthAdjust="spacingAndGlyphs">13.2</text>
<line x1="22.20" y1="176.20" x2="182.50" y2="176.20" stroke="#f0f0f0" stroke-width="0.8"/>
<text x="12.50" y="178.00" font-size="3.7" font-weight="bold" fill="#2a2a2a" stroke="#2a2a2a" stroke-width="0.22" textLength="6.40" lengthAdjust="spacingAndGlyphs">12.7</text>
<line x1="22.20" y1="115.30" x2="182.50" y2="115.30" stroke="#48b07c" stroke-width="1.35"/>
<line x1="22.20" y1="143.20" x2="182.50" y2="143.20" stroke="#b4b4b4" stroke-width="1.1"/>
<line x1="22.20" y1="171.10" x2="182.50" y2="171.10" stroke="#f0d868" stroke-width="1.5"/>
<text x="21.70" y="182.70" font-size="3.5" font-weight="bold" fill="#2a2a2a" stroke="#2a2a2a" stroke-width="0.22" textLength="1.60" lengthAdjust="spacingAndGlyphs">1</text>
<text x="26.85" y="182.70" font-size="3.5" font-weight="bold" fill="#2a2a2a" stroke="#2a2a2a" stroke-width="0.22" textLength="1.60" lengthAdjust="spacingAndGlyphs">2</text>
<text x="32.00" y="182.70" font-size="3.5" font-weight="bold" fill="#2a2a2a" stroke="#2a2a2a" stroke-width="0.22" textLength="1.60" lengthAdjust="spacingAndGlyphs">3</text>
<text x="37.15" y="182.70" font-size="3.5" font-weight="bold" fill="#2a2a2a" stroke="#2a2a2a" stroke-width="0.22" textLength="1.60" lengthAdjust="spacingAndGlyphs">4</text>
<text x="42.30" y="182.70" font-size="3.5" font-weight="bold" fill="#2a2a2a" stroke="#2a2a2a" stroke-width="0.22" textLength="1.60" lengthAdjust="spacingAndGlyphs">5</text>
<text x="47.45" y="182.70" font-size="3.5" font-weight="bold" fill="#2a2a2a" stroke="#2a2a2a" stroke-width="0.22" textLength="1.60" lengthAdjust="spacingAndGlyphs">6</text>
<text x="52.60" y="182.70" font-size="3.5" font-weight="bold" fill="#2a2a2a" stroke="#2a2a2a" stroke-width="0.22" textLength="1.60" lengthAdjust="spacingAndGlyphs">7</text>
<text x="57.75" y="182.70" font-size="3.5" font-weight="bold" fill="#2a2a2a" stroke="#2a2a2a" stroke-width="0.22" textLength="1.60" lengthAdjust="spacingAndGlyphs">8</text>
<text x="62.90" y="182.70" font-size="3.5" font-weight="bold" fill="#2a2a2a" stroke="#2a2a2a" stroke-width="0.22" textLength="1.60" lengthAdjust="spacingAndGlyphs">9</text>
<text x="67.25" y="182.70" font-size="3.5" font-weight="bold" fill="#2a2a2a" stroke="#2a2a2a" stroke-width="0.22" textLength="3.20" lengthAdjust="spacingAndGlyphs">10</text>
<text x="72.40" y="182.70" font-size="3.5" font-weight="bold" fill="#2a2a2a" stroke="#2a2a2a" stroke-width="0.22" textLength="3.20" lengthAdjust="spacingAndGlyphs">11</text>
<text x="77.55" y="182.70" font-size="3.5" font-weight="bold" fill="#2a2a2a" stroke="#2a2a2a" stroke-width="0.22" textLength="3.20" lengthAdjust="spacingAndGlyphs">12</text>
<text x="82.70" y="182.70" font-size="3.5" font-weight="bold" fill="#2a2a2a" stroke="#2a2a2a" stroke-width="0.22" textLength="3.20" lengthAdjust="spacingAndGlyphs">13</text>
<text x="87.85" y="182.70" font-size="3.5" font-weight="bold" fill="#2a2a2a" stroke="#2a2a2a" stroke-width="0.22" textLength="3.20" lengthAdjust="spacingAndGlyphs">14</text>
<text x="93.00" y="182.70" font-size="3.5" font-weight="bold" fill="#2a2a2a" stroke="#2a2a2a" stroke-width="0.22" textLength="3.20" lengthAdjust="spacingAndGlyphs">15</text>
<text x="98.15" y="182.70" font-size="3.5" font-weight="bold" fill="#2a2a2a" stroke="#2a2a2a" stroke-width="0.22" textLength="3.20" lengthAdjust="spacingAndGlyphs">16</text>
<text x="103.30" y="182.70" font-size="3.5" font-weight="bold" fill="#2a2a2a" stroke="#2a2a2a" stroke-width="0.22" textLength="3.20" lengthAdjust="spacingAndGlyphs">17</text>
<text x="108.45" y="182.70" font-size="3.5" font-weight="bold" fill="#2a2a2a" stroke="#2a2a2a" stroke-width="0.22" textLength="3.20" lengthAdjust="spacingAndGlyphs">18</text>
<text x="113.60" y="182.70" font-size="3.5" font-weight="bold" fill="#2a2a2a" stroke="#2a2a2a" stroke-width="0.22" textLength="3.20" lengthAdjust="spacingAndGlyphs">19</text>
<text x="118.75" y="182.70" font-size="3.5" font-weight="bold" fill="#2a2a2a" stroke="#2a2a2a" stroke-width="0.22" textLength="3.20" lengthAdjust="spacingAndGlyphs">20</text>
<text x="123.90" y="182.70" font-size="3.5" font-weight="bold" fill="#2a2a2a" stroke="#2a2a2a" stroke-width="0.22" textLength="3.20" lengthAdjust="spacingAndGlyphs">21</text>
<text x="129.05" y="182.70" font-size="3.5" font-weight="bold" fill="#2a2a2a" stroke="#2a2a2a" stroke-width="0.22" textLength="3.20" lengthAdjust="spacingAndGlyphs">22</text>
<text x="134.20" y="182.70" font-size="3.5" font-weight="bold" fill="#2a2a2a" stroke="#2a2a2a" stroke-width="0.22" textLength="3.20" lengthAdjust="spacingAndGlyphs">23</text>
<text x="139.35" y="182.70" font-size="3.5" font-weight="bold" fill="#2a2a2a" stroke="#2a2a2a" stroke-width="0.22" textLength="3.20" lengthAdjust="spacingAndGlyphs">24</text>
<text x="144.50" y="182.70" font-size="3.5" font-weight="bold" fill="#2a2a2a" stroke="#2a2a2a" stroke-width="0.22" textLength="3.20" lengthAdjust="spacingAndGlyphs">25</text>
<text x="149.65" y="182.70" font-size="3.5" font-weight="bold" fill="#2a2a2a" stroke="#2a2a2a" stroke-width="0.22" textLength="3.20" lengthAdjust="spacingAndGlyphs">26</text>
<text x="154.80" y="182.70" font-size="3.5" font-weight="bold" fill="#2a2a2a" stroke="#2a2a2a" stroke-width="0.22" textLength="3.20" lengthAdjust="spacingAndGlyphs">27</text>
<text x="159.95" y="182.70" font-size="3.5" font-weight="bold" fill="#2a2a2a" stroke="#2a2a2a" stroke-width="0.22" textLength="3.20" lengthAdjust="spacingAndGlyphs">28</text>
<text x="165.10" y="182.70" font-size="3.5" font-weight="bold" fill="#2a2a2a" stroke="#2a2a2a" stroke-width="0.22" textLength="3.20" lengthAdjust="spacingAndGlyphs">29</text>
<text x="170.25" y="182.70" font-size="3.5" font-weight="bold" fill="#2a2a2a" stroke="#2a2a2a" stroke-width="0.22" textLength="3.20" lengthAdjust="spacingAndGlyphs">30</text>
<text x="175.40" y="182.70" font-size="3.5" font-weight="bold" fill="#2a2a2a" stroke="#2a2a2a" stroke-width="0.22" textLength="3.20" lengthAdjust="spacingAndGlyphs">31</text>
<text x="180.55" y="182.70" font-size="3.5" font-weight="bold" fill="#2a2a2a" stroke="#2a2a2a" stroke-width="0.22" textLength="3.20" lengthAdjust="spacingAndGlyphs">32</text>
<text x="78.60" y="109.40" font-size="5.6" font-weight="bold" fill="#111" stroke="#111" stroke-width="0.3" textLength="37.20" lengthAdjust="spacingAndGlyphs">Shewhart Xbar</text>
<text x="0" y="0" font-size="4.3" font-weight="bold" fill="#2a2a2a" stroke="#2a2a2a" stroke-width="0.3" textLength="8.00" lengthAdjust="spacingAndGlyphs" transform="translate(5.90,144.00) rotate(-90)">Xbar</text>
<text x="91.70" y="189.00" font-size="5.1" font-weight="bold" fill="#111" stroke="#111" stroke-width="0.25" textLength="20.20" lengthAdjust="spacingAndGlyphs">Subgroup</text>
<rect x="21.55" y="137.35" width="1.90" height="1.90" fill="#111"/>
<rect x="26.70" y="147.25" width="1.90" height="1.90" fill="#111"/>
<rect x="31.85" y="153.75" width="1.90" height="1.90" fill="#111"/>
<rect x="37.00" y="143.85" width="1.90" height="1.90" fill="#111"/>
<rect x="42.15" y="146.25" width="1.90" height="1.90" fill="#111"/>
<rect x="47.30" y="144.05" width="1.90" height="1.90" fill="#111"/>
<rect x="52.45" y="133.85" width="1.90" height="1.90" fill="#111"/>
<rect x="57.60" y="136.95" width="1.90" height="1.90" fill="#111"/>
<rect x="62.75" y="149.05" width="1.90" height="1.90" fill="#111"/>
<rect x="67.90" y="141.25" width="1.90" height="1.90" fill="#111"/>
<rect x="73.05" y="147.95" width="1.90" height="1.90" fill="#111"/>
<rect x="78.20" y="129.15" width="1.90" height="1.90" fill="#111"/>
<rect x="83.35" y="132.25" width="1.90" height="1.90" fill="#111"/>
<rect x="88.50" y="143.55" width="1.90" height="1.90" fill="#111"/>
<rect x="93.65" y="151.75" width="1.90" height="1.90" fill="#111"/>
<rect x="98.80" y="134.35" width="1.90" height="1.90" fill="#111"/>
<rect x="103.95" y="132.95" width="1.90" height="1.90" fill="#111"/>
<rect x="109.10" y="134.55" width="1.90" height="1.90" fill="#111"/>
<rect x="114.25" y="119.75" width="1.90" height="1.90" fill="#111"/>
<rect x="119.40" y="131.95" width="1.90" height="1.90" fill="#111"/>
<rect x="124.55" y="136.85" width="1.90" height="1.90" fill="#111"/>
<rect x="129.70" y="122.05" width="1.90" height="1.90" fill="#111"/>
<rect x="134.85" y="118.15" width="1.90" height="1.90" fill="#111"/>
<rect x="140.00" y="123.05" width="1.90" height="1.90" fill="#111"/>
<rect x="145.15" y="133.75" width="1.90" height="1.90" fill="#111"/>
<rect x="150.30" y="133.75" width="1.90" height="1.90" fill="#111"/>
<rect x="155.45" y="126.95" width="1.90" height="1.90" fill="#111"/>
<rect x="160.60" y="125.65" width="1.90" height="1.90" fill="#111"/>
<rect x="165.75" y="134.35" width="1.90" height="1.90" fill="#111"/>
<rect x="170.90" y="128.15" width="1.90" height="1.90" fill="#111"/>
<rect x="176.05" y="111.85" width="1.90" height="1.90" fill="#9a2a30"/>
<rect x="68.90" y="192.70" width="1.60" height="1.60" fill="#111"/>
<text x="74.90" y="194.80" font-size="3.5" font-weight="bold" fill="#2a2a2a" stroke="#2a2a2a" stroke-width="0.22" textLength="6.90" lengthAdjust="spacingAndGlyphs">Xbar</text>
<line x1="89.60" y1="193.50" x2="98.50" y2="193.50" stroke="#48b07c" stroke-width="0.9"/>
<text x="98.50" y="194.80" font-size="3.5" font-weight="bold" fill="#2a2a2a" stroke="#2a2a2a" stroke-width="0.22" textLength="5.50" lengthAdjust="spacingAndGlyphs">UCL</text>
<line x1="112.40" y1="193.50" x2="121.60" y2="193.50" stroke="#f0d868" stroke-width="0.9"/>
<text x="121.60" y="194.80" font-size="3.5" font-weight="bold" fill="#2a2a2a" stroke="#2a2a2a" stroke-width="0.22" textLength="6.50" lengthAdjust="spacingAndGlyphs">LCL</text>
<line x1="136.00" y1="193.50" x2="144.50" y2="193.50" stroke="#b4b4b4" stroke-width="0.9"/>
<text x="144.50" y="194.80" font-size="3.5" font-weight="bold" fill="#2a2a2a" stroke="#2a2a2a" stroke-width="0.22" textLength="3.60" lengthAdjust="spacingAndGlyphs">LC</text>
<rect x="194.00" y="101.90" width="186.80" height="95.10" fill="none" stroke="#f1f1f1" stroke-width="0.8"/>
<line x1="209.90" y1="105.50" x2="375.80" y2="105.50" stroke="#f0f0f0" stroke-width="0.8"/>
<text x="200.30" y="107.30" font-size="3.7" font-weight="bold" fill="#2a2a2a" stroke="#2a2a2a" stroke-width="0.22" textLength="6.40" lengthAdjust="spacingAndGlyphs">17.7</text>
<line x1="209.90" y1="112.60" x2="375.80" y2="112.60" stroke="#f0f0f0" stroke-width="0.8"/>
<text x="200.30" y="114.40" font-size="3.7" font-weight="bold" fill="#2a2a2a" stroke="#2a2a2a" stroke-width="0.22" textLength="6.40" lengthAdjust="spacingAndGlyphs">17.2</text>
<line x1="209.90" y1="119.70" x2="375.80" y2="119.70" stroke="#f0f0f0" stroke-width="0.8"/>
<text x="200.30" y="121.50" font-size="3.7" font-weight="bold" fill="#2a2a2a" stroke="#2a2a2a" stroke-width="0.22" textLength="6.40" lengthAdjust="spacingAndGlyphs">16.7</text>
<line x1="209.90" y1="126.80" x2="375.80" y2="126.80" stroke="#f0f0f0" stroke-width="0.8"/>
<text x="200.30" y="128.60" font-size="3.7" font-weight="bold" fill="#2a2a2a" stroke="#2a2a2a" stroke-width="0.22" textLength="6.40" lengthAdjust="spacingAndGlyphs">16.2</text>
<line x1="209.90" y1="133.90" x2="375.80" y2="133.90" stroke="#f0f0f0" stroke-width="0.8"/>
<text x="200.30" y="135.70" font-size="3.7" font-weight="bold" fill="#2a2a2a" stroke="#2a2a2a" stroke-width="0.22" textLength="6.40" lengthAdjust="spacingAndGlyphs">15.7</text>
<line x1="209.90" y1="141.00" x2="375.80" y2="141.00" stroke="#f0f0f0" stroke-width="0.8"/>
<text x="200.30" y="142.80" font-size="3.7" font-weight="bold" fill="#2a2a2a" stroke="#2a2a2a" stroke-width="0.22" textLength="6.40" lengthAdjust="spacingAndGlyphs">15.2</text>
<line x1="209.90" y1="148.10" x2="375.80" y2="148.10" stroke="#f0f0f0" stroke-width="0.8"/>
<text x="200.30" y="149.90" font-size="3.7" font-weight="bold" fill="#2a2a2a" stroke="#2a2a2a" stroke-width="0.22" textLength="6.40" lengthAdjust="spacingAndGlyphs">14.7</text>
<line x1="209.90" y1="155.20" x2="375.80" y2="155.20" stroke="#f0f0f0" stroke-width="0.8"/>
<text x="200.30" y="157.00" font-size="3.7" font-weight="bold" fill="#2a2a2a" stroke="#2a2a2a" stroke-width="0.22" textLength="6.40" lengthAdjust="spacingAndGlyphs">14.2</text>
<line x1="209.90" y1="162.30" x2="375.80" y2="162.30" stroke="#f0f0f0" stroke-width="0.8"/>
<text x="200.30" y="164.10" font-size="3.7" font-weight="bold" fill="#2a2a2a" stroke="#2a2a2a" stroke-width="0.22" textLength="6.40" lengthAdjust="spacingAndGlyphs">13.7</text>
<line x1="209.90" y1="169.40" x2="375.80" y2="169.40" stroke="#f0f0f0" stroke-width="0.8"/>
<text x="200.30" y="171.20" font-size="3.7" font-weight="bold" fill="#2a2a2a" stroke="#2a2a2a" stroke-width="0.22" textLength="6.40" lengthAdjust="spacingAndGlyphs">13.2</text>
<line x1="209.90" y1="176.50" x2="375.80" y2="176.50" stroke="#f0f0f0" stroke-width="0.8"/>
<text x="200.30" y="178.30" font-size="3.7" font-weight="bold" fill="#2a2a2a" stroke="#2a2a2a" stroke-width="0.22" textLength="6.40" lengthAdjust="spacingAndGlyphs">12.7</text>
<line x1="209.90" y1="115.50" x2="375.80" y2="115.50" stroke="#48b07c" stroke-width="1.35"/>
<line x1="209.90" y1="143.50" x2="375.80" y2="143.50" stroke="#b4b4b4" stroke-width="1.1"/>
<line x1="209.90" y1="171.60" x2="375.80" y2="171.60" stroke="#f0d868" stroke-width="1.5"/>
<text x="209.40" y="182.70" font-size="3.5" font-weight="bold" fill="#2a2a2a" stroke="#2a2a2a" stroke-width="0.22" textLength="1.60" lengthAdjust="spacingAndGlyphs">1</text>
<text x="214.40" y="182.70" font-size="3.5" font-weight="bold" fill="#2a2a2a" stroke="#2a2a2a" stroke-width="0.22" textLength="1.60" lengthAdjust="spacingAndGlyphs">2</text>
<text x="219.39" y="182.70" font-size="3.5" font-weight="bold" fill="#2a2a2a" stroke="#2a2a2a" stroke-width="0.22" textLength="1.60" lengthAdjust="spacingAndGlyphs">3</text>
<text x="224.39" y="182.70" font-size="3.5" font-weight="bold" fill="#2a2a2a" stroke="#2a2a2a" stroke-width="0.22" textLength="1.60" lengthAdjust="spacingAndGlyphs">4</text>
<text x="229.39" y="182.70" font-size="3.5" font-weight="bold" fill="#2a2a2a" stroke="#2a2a2a" stroke-width="0.22" textLength="1.60" lengthAdjust="spacingAndGlyphs">5</text>
<text x="234.38" y="182.70" font-size="3.5" font-weight="bold" fill="#2a2a2a" stroke="#2a2a2a" stroke-width="0.22" textLength="1.60" lengthAdjust="spacingAndGlyphs">6</text>
<text x="239.38" y="182.70" font-size="3.5" font-weight="bold" fill="#2a2a2a" stroke="#2a2a2a" stroke-width="0.22" textLength="1.60" lengthAdjust="spacingAndGlyphs">7</text>
<text x="244.38" y="182.70" font-size="3.5" font-weight="bold" fill="#2a2a2a" stroke="#2a2a2a" stroke-width="0.22" textLength="1.60" lengthAdjust="spacingAndGlyphs">8</text>
<text x="249.38" y="182.70" font-size="3.5" font-weight="bold" fill="#2a2a2a" stroke="#2a2a2a" stroke-width="0.22" textLength="1.60" lengthAdjust="spacingAndGlyphs">9</text>
<text x="253.57" y="182.70" font-size="3.5" font-weight="bold" fill="#2a2a2a" stroke="#2a2a2a" stroke-width="0.22" textLength="3.20" lengthAdjust="spacingAndGlyphs">10</text>
<text x="258.57" y="182.70" font-size="3.5" font-weight="bold" fill="#2a2a2a" stroke="#2a2a2a" stroke-width="0.22" textLength="3.20" lengthAdjust="spacingAndGlyphs">11</text>
<text x="263.57" y="182.70" font-size="3.5" font-weight="bold" fill="#2a2a2a" stroke="#2a2a2a" stroke-width="0.22" textLength="3.20" lengthAdjust="spacingAndGlyphs">12</text>
<text x="268.56" y="182.70" font-size="3.5" font-weight="bold" fill="#2a2a2a" stroke="#2a2a2a" stroke-width="0.22" textLength="3.20" lengthAdjust="spacingAndGlyphs">13</text>
<text x="273.56" y="182.70" font-size="3.5" font-weight="bold" fill="#2a2a2a" stroke="#2a2a2a" stroke-width="0.22" textLength="3.20" lengthAdjust="spacingAndGlyphs">14</text>
<text x="278.56" y="182.70" font-size="3.5" font-weight="bold" fill="#2a2a2a" stroke="#2a2a2a" stroke-width="0.22" textLength="3.20" lengthAdjust="spacingAndGlyphs">15</text>
<text x="283.55" y="182.70" font-size="3.5" font-weight="bold" fill="#2a2a2a" stroke="#2a2a2a" stroke-width="0.22" textLength="3.20" lengthAdjust="spacingAndGlyphs">16</text>
<text x="288.55" y="182.70" font-size="3.5" font-weight="bold" fill="#2a2a2a" stroke="#2a2a2a" stroke-width="0.22" textLength="3.20" lengthAdjust="spacingAndGlyphs">17</text>
<text x="293.55" y="182.70" font-size="3.5" font-weight="bold" fill="#2a2a2a" stroke="#2a2a2a" stroke-width="0.22" textLength="3.20" lengthAdjust="spacingAndGlyphs">18</text>
<text x="298.55" y="182.70" font-size="3.5" font-weight="bold" fill="#2a2a2a" stroke="#2a2a2a" stroke-width="0.22" textLength="3.20" lengthAdjust="spacingAndGlyphs">19</text>
<text x="303.54" y="182.70" font-size="3.5" font-weight="bold" fill="#2a2a2a" stroke="#2a2a2a" stroke-width="0.22" textLength="3.20" lengthAdjust="spacingAndGlyphs">20</text>
<text x="308.54" y="182.70" font-size="3.5" font-weight="bold" fill="#2a2a2a" stroke="#2a2a2a" stroke-width="0.22" textLength="3.20" lengthAdjust="spacingAndGlyphs">21</text>
<text x="313.54" y="182.70" font-size="3.5" font-weight="bold" fill="#2a2a2a" stroke="#2a2a2a" stroke-width="0.22" textLength="3.20" lengthAdjust="spacingAndGlyphs">22</text>
<text x="318.53" y="182.70" font-size="3.5" font-weight="bold" fill="#2a2a2a" stroke="#2a2a2a" stroke-width="0.22" textLength="3.20" lengthAdjust="spacingAndGlyphs">23</text>
<text x="323.53" y="182.70" font-size="3.5" font-weight="bold" fill="#2a2a2a" stroke="#2a2a2a" stroke-width="0.22" textLength="3.20" lengthAdjust="spacingAndGlyphs">24</text>
<text x="328.53" y="182.70" font-size="3.5" font-weight="bold" fill="#2a2a2a" stroke="#2a2a2a" stroke-width="0.22" textLength="3.20" lengthAdjust="spacingAndGlyphs">25</text>
<text x="333.52" y="182.70" font-size="3.5" font-weight="bold" fill="#2a2a2a" stroke="#2a2a2a" stroke-width="0.22" textLength="3.20" lengthAdjust="spacingAndGlyphs">26</text>
<text x="338.52" y="182.70" font-size="3.5" font-weight="bold" fill="#2a2a2a" stroke="#2a2a2a" stroke-width="0.22" textLength="3.20" lengthAdjust="spacingAndGlyphs">27</text>
<text x="343.52" y="182.70" font-size="3.5" font-weight="bold" fill="#2a2a2a" stroke="#2a2a2a" stroke-width="0.22" textLength="3.20" lengthAdjust="spacingAndGlyphs">28</text>
<text x="348.52" y="182.70" font-size="3.5" font-weight="bold" fill="#2a2a2a" stroke="#2a2a2a" stroke-width="0.22" textLength="3.20" lengthAdjust="spacingAndGlyphs">29</text>
<text x="353.51" y="182.70" font-size="3.5" font-weight="bold" fill="#2a2a2a" stroke="#2a2a2a" stroke-width="0.22" textLength="3.20" lengthAdjust="spacingAndGlyphs">30</text>
<text x="358.51" y="182.70" font-size="3.5" font-weight="bold" fill="#2a2a2a" stroke="#2a2a2a" stroke-width="0.22" textLength="3.20" lengthAdjust="spacingAndGlyphs">31</text>
<text x="363.51" y="182.70" font-size="3.5" font-weight="bold" fill="#2a2a2a" stroke="#2a2a2a" stroke-width="0.22" textLength="3.20" lengthAdjust="spacingAndGlyphs">32</text>
<text x="368.50" y="182.70" font-size="3.5" font-weight="bold" fill="#2a2a2a" stroke="#2a2a2a" stroke-width="0.22" textLength="3.20" lengthAdjust="spacingAndGlyphs">33</text>
<text x="373.50" y="182.70" font-size="3.5" font-weight="bold" fill="#2a2a2a" stroke="#2a2a2a" stroke-width="0.22" textLength="3.20" lengthAdjust="spacingAndGlyphs">34</text>
<text x="269.10" y="109.90" font-size="5.6" font-weight="bold" fill="#111" stroke="#111" stroke-width="0.3" textLength="37.20" lengthAdjust="spacingAndGlyphs">Shewhart Xbar</text>
<text x="0" y="0" font-size="4.3" font-weight="bold" fill="#2a2a2a" stroke="#2a2a2a" stroke-width="0.3" textLength="8.00" lengthAdjust="spacingAndGlyphs" transform="translate(199.60,145.00) rotate(-90)">Xbar</text>
<text x="283.10" y="188.50" font-size="5.1" font-weight="bold" fill="#111" stroke="#111" stroke-width="0.25" textLength="20.20" lengthAdjust="spacingAndGlyphs">Subgroup</text>
<rect x="209.25" y="137.55" width="1.90" height="1.90" fill="#111"/>
<rect x="214.25" y="138.45" width="1.90" height="1.90" fill="#111"/>
<rect x="219.24" y="148.45" width="1.90" height="1.90" fill="#111"/>
<rect x="224.24" y="138.05" width="1.90" height="1.90" fill="#111"/>
<rect x="229.24" y="143.85" width="1.90" height="1.90" fill="#111"/>
<rect x="234.24" y="123.05" width="1.90" height="1.90" fill="#111"/>
<rect x="239.23" y="146.85" width="1.90" height="1.90" fill="#111"/>
<rect x="244.23" y="132.75" width="1.90" height="1.90" fill="#111"/>
<rect x="249.23" y="135.85" width="1.90" height="1.90" fill="#111"/>
<rect x="254.22" y="137.75" width="1.90" height="1.90" fill="#111"/>
<rect x="259.22" y="149.05" width="1.90" height="1.90" fill="#111"/>
<rect x="264.22" y="138.75" width="1.90" height="1.90" fill="#111"/>
<rect x="269.21" y="148.45" width="1.90" height="1.90" fill="#111"/>
<rect x="274.21" y="136.65" width="1.90" height="1.90" fill="#111"/>
<rect x="279.21" y="140.55" width="1.90" height="1.90" fill="#111"/>
<rect x="284.20" y="132.75" width="1.90" height="1.90" fill="#111"/>
<rect x="289.20" y="129.65" width="1.90" height="1.90" fill="#111"/>
<rect x="294.20" y="145.05" width="1.90" height="1.90" fill="#111"/>
<rect x="299.20" y="120.15" width="1.90" height="1.90" fill="#111"/>
<rect x="304.19" y="127.25" width="1.90" height="1.90" fill="#111"/>
<rect x="309.19" y="125.25" width="1.90" height="1.90" fill="#111"/>
<rect x="314.19" y="124.25" width="1.90" height="1.90" fill="#111"/>
<rect x="319.18" y="129.05" width="1.90" height="1.90" fill="#111"/>
<rect x="324.18" y="135.35" width="1.90" height="1.90" fill="#111"/>
<rect x="329.18" y="119.45" width="1.90" height="1.90" fill="#111"/>
<rect x="334.18" y="131.15" width="1.90" height="1.90" fill="#111"/>
<rect x="339.17" y="134.75" width="1.90" height="1.90" fill="#111"/>
<rect x="344.17" y="121.15" width="1.90" height="1.90" fill="#111"/>
<rect x="349.17" y="128.55" width="1.90" height="1.90" fill="#111"/>
<rect x="354.16" y="126.55" width="1.90" height="1.90" fill="#111"/>
<rect x="359.16" y="129.95" width="1.90" height="1.90" fill="#111"/>
<rect x="364.16" y="122.80" width="1.90" height="1.90" fill="#111"/>
<rect x="369.15" y="110.95" width="1.90" height="1.90" fill="#9a2a30"/>
<rect x="262.30" y="192.90" width="1.60" height="1.60" fill="#111"/>
<text x="268.30" y="195.00" font-size="3.5" font-weight="bold" fill="#2a2a2a" stroke="#2a2a2a" stroke-width="0.22" textLength="6.90" lengthAdjust="spacingAndGlyphs">Xbar</text>
<line x1="283.00" y1="193.70" x2="291.90" y2="193.70" stroke="#48b07c" stroke-width="0.9"/>
<text x="291.90" y="195.00" font-size="3.5" font-weight="bold" fill="#2a2a2a" stroke="#2a2a2a" stroke-width="0.22" textLength="5.50" lengthAdjust="spacingAndGlyphs">UCL</text>
<line x1="305.80" y1="193.70" x2="315.00" y2="193.70" stroke="#f0d868" stroke-width="0.9"/>
<text x="315.00" y="195.00" font-size="3.5" font-weight="bold" fill="#2a2a2a" stroke="#2a2a2a" stroke-width="0.22" textLength="6.50" lengthAdjust="spacingAndGlyphs">LCL</text>
<line x1="329.40" y1="193.70" x2="337.90" y2="193.70" stroke="#b4b4b4" stroke-width="0.9"/>
<text x="337.90" y="195.00" font-size="3.5" font-weight="bold" fill="#2a2a2a" stroke="#2a2a2a" stroke-width="0.22" textLength="3.60" lengthAdjust="spacingAndGlyphs">LC</text>
<rect x="105.50" y="304.60" width="184.10" height="94.90" fill="none" stroke="#f1f1f1" stroke-width="0.8"/>
<line x1="123.90" y1="307.20" x2="287.60" y2="307.20" stroke="#f0f0f0" stroke-width="0.8"/>
<text x="114.20" y="309.00" font-size="3.7" font-weight="bold" fill="#2a2a2a" stroke="#2a2a2a" stroke-width="0.22" textLength="6.40" lengthAdjust="spacingAndGlyphs">17.7</text>
<line x1="123.90" y1="314.33" x2="287.60" y2="314.33" stroke="#f0f0f0" stroke-width="0.8"/>
<text x="114.20" y="316.13" font-size="3.7" font-weight="bold" fill="#2a2a2a" stroke="#2a2a2a" stroke-width="0.22" textLength="6.40" lengthAdjust="spacingAndGlyphs">17.2</text>
<line x1="123.90" y1="321.46" x2="287.60" y2="321.46" stroke="#f0f0f0" stroke-width="0.8"/>
<text x="114.20" y="323.26" font-size="3.7" font-weight="bold" fill="#2a2a2a" stroke="#2a2a2a" stroke-width="0.22" textLength="6.40" lengthAdjust="spacingAndGlyphs">16.7</text>
<line x1="123.90" y1="328.59" x2="287.60" y2="328.59" stroke="#f0f0f0" stroke-width="0.8"/>
<text x="114.20" y="330.39" font-size="3.7" font-weight="bold" fill="#2a2a2a" stroke="#2a2a2a" stroke-width="0.22" textLength="6.40" lengthAdjust="spacingAndGlyphs">16.2</text>
<line x1="123.90" y1="335.72" x2="287.60" y2="335.72" stroke="#f0f0f0" stroke-width="0.8"/>
<text x="114.20" y="337.52" font-size="3.7" font-weight="bold" fill="#2a2a2a" stroke="#2a2a2a" stroke-width="0.22" textLength="6.40" lengthAdjust="spacingAndGlyphs">15.7</text>
<line x1="123.90" y1="342.85" x2="287.60" y2="342.85" stroke="#f0f0f0" stroke-width="0.8"/>
<text x="114.20" y="344.65" font-size="3.7" font-weight="bold" fill="#2a2a2a" stroke="#2a2a2a" stroke-width="0.22" textLength="6.40" lengthAdjust="spacingAndGlyphs">15.2</text>
<line x1="123.90" y1="349.98" x2="287.60" y2="349.98" stroke="#f0f0f0" stroke-width="0.8"/>
<text x="114.20" y="351.78" font-size="3.7" font-weight="bold" fill="#2a2a2a" stroke="#2a2a2a" stroke-width="0.22" textLength="6.40" lengthAdjust="spacingAndGlyphs">14.7</text>
<line x1="123.90" y1="357.11" x2="287.60" y2="357.11" stroke="#f0f0f0" stroke-width="0.8"/>
<text x="114.20" y="358.91" font-size="3.7" font-weight="bold" fill="#2a2a2a" stroke="#2a2a2a" stroke-width="0.22" textLength="6.40" lengthAdjust="spacingAndGlyphs">14.2</text>
<line x1="123.90" y1="364.24" x2="287.60" y2="364.24" stroke="#f0f0f0" stroke-width="0.8"/>
<text x="114.20" y="366.04" font-size="3.7" font-weight="bold" fill="#2a2a2a" stroke="#2a2a2a" stroke-width="0.22" textLength="6.40" lengthAdjust="spacingAndGlyphs">13.7</text>
<line x1="123.90" y1="371.37" x2="287.60" y2="371.37" stroke="#f0f0f0" stroke-width="0.8"/>
<text x="114.20" y="373.17" font-size="3.7" font-weight="bold" fill="#2a2a2a" stroke="#2a2a2a" stroke-width="0.22" textLength="6.40" lengthAdjust="spacingAndGlyphs">13.2</text>
<line x1="123.90" y1="378.50" x2="287.60" y2="378.50" stroke="#f0f0f0" stroke-width="0.8"/>
<text x="114.20" y="380.30" font-size="3.7" font-weight="bold" fill="#2a2a2a" stroke="#2a2a2a" stroke-width="0.22" textLength="6.40" lengthAdjust="spacingAndGlyphs">12.7</text>
<line x1="123.90" y1="317.70" x2="287.60" y2="317.70" stroke="#48b07c" stroke-width="1.35"/>
<line x1="123.90" y1="346.00" x2="287.60" y2="346.00" stroke="#b4b4b4" stroke-width="1.1"/>
<line x1="123.90" y1="373.90" x2="287.60" y2="373.90" stroke="#f0d868" stroke-width="1.5"/>
<text x="123.40" y="385.10" font-size="3.5" font-weight="bold" fill="#2a2a2a" stroke="#2a2a2a" stroke-width="0.22" textLength="1.60" lengthAdjust="spacingAndGlyphs">1</text>
<text x="128.51" y="385.10" font-size="3.5" font-weight="bold" fill="#2a2a2a" stroke="#2a2a2a" stroke-width="0.22" textLength="1.60" lengthAdjust="spacingAndGlyphs">2</text>
<text x="133.61" y="385.10" font-size="3.5" font-weight="bold" fill="#2a2a2a" stroke="#2a2a2a" stroke-width="0.22" textLength="1.60" lengthAdjust="spacingAndGlyphs">3</text>
<text x="138.72" y="385.10" font-size="3.5" font-weight="bold" fill="#2a2a2a" stroke="#2a2a2a" stroke-width="0.22" textLength="1.60" lengthAdjust="spacingAndGlyphs">4</text>
<text x="143.82" y="385.10" font-size="3.5" font-weight="bold" fill="#2a2a2a" stroke="#2a2a2a" stroke-width="0.22" textLength="1.60" lengthAdjust="spacingAndGlyphs">5</text>
<text x="148.93" y="385.10" font-size="3.5" font-weight="bold" fill="#2a2a2a" stroke="#2a2a2a" stroke-width="0.22" textLength="1.60" lengthAdjust="spacingAndGlyphs">6</text>
<text x="154.04" y="385.10" font-size="3.5" font-weight="bold" fill="#2a2a2a" stroke="#2a2a2a" stroke-width="0.22" textLength="1.60" lengthAdjust="spacingAndGlyphs">7</text>
<text x="159.14" y="385.10" font-size="3.5" font-weight="bold" fill="#2a2a2a" stroke="#2a2a2a" stroke-width="0.22" textLength="1.60" lengthAdjust="spacingAndGlyphs">8</text>
<text x="164.25" y="385.10" font-size="3.5" font-weight="bold" fill="#2a2a2a" stroke="#2a2a2a" stroke-width="0.22" textLength="1.60" lengthAdjust="spacingAndGlyphs">9</text>
<text x="168.55" y="385.10" font-size="3.5" font-weight="bold" fill="#2a2a2a" stroke="#2a2a2a" stroke-width="0.22" textLength="3.20" lengthAdjust="spacingAndGlyphs">10</text>
<text x="173.66" y="385.10" font-size="3.5" font-weight="bold" fill="#2a2a2a" stroke="#2a2a2a" stroke-width="0.22" textLength="3.20" lengthAdjust="spacingAndGlyphs">11</text>
<text x="178.77" y="385.10" font-size="3.5" font-weight="bold" fill="#2a2a2a" stroke="#2a2a2a" stroke-width="0.22" textLength="3.20" lengthAdjust="spacingAndGlyphs">12</text>
<text x="183.87" y="385.10" font-size="3.5" font-weight="bold" fill="#2a2a2a" stroke="#2a2a2a" stroke-width="0.22" textLength="3.20" lengthAdjust="spacingAndGlyphs">13</text>
<text x="188.98" y="385.10" font-size="3.5" font-weight="bold" fill="#2a2a2a" stroke="#2a2a2a" stroke-width="0.22" textLength="3.20" lengthAdjust="spacingAndGlyphs">14</text>
<text x="194.08" y="385.10" font-size="3.5" font-weight="bold" fill="#2a2a2a" stroke="#2a2a2a" stroke-width="0.22" textLength="3.20" lengthAdjust="spacingAndGlyphs">15</text>
<text x="199.19" y="385.10" font-size="3.5" font-weight="bold" fill="#2a2a2a" stroke="#2a2a2a" stroke-width="0.22" textLength="3.20" lengthAdjust="spacingAndGlyphs">16</text>
<text x="204.30" y="385.10" font-size="3.5" font-weight="bold" fill="#2a2a2a" stroke="#2a2a2a" stroke-width="0.22" textLength="3.20" lengthAdjust="spacingAndGlyphs">17</text>
<text x="209.40" y="385.10" font-size="3.5" font-weight="bold" fill="#2a2a2a" stroke="#2a2a2a" stroke-width="0.22" textLength="3.20" lengthAdjust="spacingAndGlyphs">18</text>
<text x="214.51" y="385.10" font-size="3.5" font-weight="bold" fill="#2a2a2a" stroke="#2a2a2a" stroke-width="0.22" textLength="3.20" lengthAdjust="spacingAndGlyphs">19</text>
<text x="219.61" y="385.10" font-size="3.5" font-weight="bold" fill="#2a2a2a" stroke="#2a2a2a" stroke-width="0.22" textLength="3.20" lengthAdjust="spacingAndGlyphs">20</text>
<text x="224.72" y="385.10" font-size="3.5" font-weight="bold" fill="#2a2a2a" stroke="#2a2a2a" stroke-width="0.22" textLength="3.20" lengthAdjust="spacingAndGlyphs">21</text>
<text x="229.83" y="385.10" font-size="3.5" font-weight="bold" fill="#2a2a2a" stroke="#2a2a2a" stroke-width="0.22" textLength="3.20" lengthAdjust="spacingAndGlyphs">22</text>
<text x="234.93" y="385.10" font-size="3.5" font-weight="bold" fill="#2a2a2a" stroke="#2a2a2a" stroke-width="0.22" textLength="3.20" lengthAdjust="spacingAndGlyphs">23</text>
<text x="240.04" y="385.10" font-size="3.5" font-weight="bold" fill="#2a2a2a" stroke="#2a2a2a" stroke-width="0.22" textLength="3.20" lengthAdjust="spacingAndGlyphs">24</text>
<text x="245.14" y="385.10" font-size="3.5" font-weight="bold" fill="#2a2a2a" stroke="#2a2a2a" stroke-width="0.22" textLength="3.20" lengthAdjust="spacingAndGlyphs">25</text>
<text x="250.25" y="385.10" font-size="3.5" font-weight="bold" fill="#2a2a2a" stroke="#2a2a2a" stroke-width="0.22" textLength="3.20" lengthAdjust="spacingAndGlyphs">26</text>
<text x="255.36" y="385.10" font-size="3.5" font-weight="bold" fill="#2a2a2a" stroke="#2a2a2a" stroke-width="0.22" textLength="3.20" lengthAdjust="spacingAndGlyphs">27</text>
<text x="260.46" y="385.10" font-size="3.5" font-weight="bold" fill="#2a2a2a" stroke="#2a2a2a" stroke-width="0.22" textLength="3.20" lengthAdjust="spacingAndGlyphs">28</text>
<text x="265.57" y="385.10" font-size="3.5" font-weight="bold" fill="#2a2a2a" stroke="#2a2a2a" stroke-width="0.22" textLength="3.20" lengthAdjust="spacingAndGlyphs">29</text>
<text x="270.67" y="385.10" font-size="3.5" font-weight="bold" fill="#2a2a2a" stroke="#2a2a2a" stroke-width="0.22" textLength="3.20" lengthAdjust="spacingAndGlyphs">30</text>
<text x="275.78" y="385.10" font-size="3.5" font-weight="bold" fill="#2a2a2a" stroke="#2a2a2a" stroke-width="0.22" textLength="3.20" lengthAdjust="spacingAndGlyphs">31</text>
<text x="280.89" y="385.10" font-size="3.5" font-weight="bold" fill="#2a2a2a" stroke="#2a2a2a" stroke-width="0.22" textLength="3.20" lengthAdjust="spacingAndGlyphs">32</text>
<text x="285.99" y="385.10" font-size="3.5" font-weight="bold" fill="#2a2a2a" stroke="#2a2a2a" stroke-width="0.22" textLength="3.20" lengthAdjust="spacingAndGlyphs">33</text>
<text x="179.10" y="312.10" font-size="5.6" font-weight="bold" fill="#111" stroke="#111" stroke-width="0.3" textLength="37.20" lengthAdjust="spacingAndGlyphs">Shewhart Xbar</text>
<text x="0" y="0" font-size="4.3" font-weight="bold" fill="#2a2a2a" stroke="#2a2a2a" stroke-width="0.3" textLength="8.00" lengthAdjust="spacingAndGlyphs" transform="translate(110.60,347.20) rotate(-90)">Xbar</text>
<text x="195.80" y="390.60" font-size="5.1" font-weight="bold" fill="#111" stroke="#111" stroke-width="0.25" textLength="20.20" lengthAdjust="spacingAndGlyphs">Subgroup</text>
<rect x="123.25" y="338.25" width="1.90" height="1.90" fill="#111"/>
<rect x="128.36" y="345.65" width="1.90" height="1.90" fill="#111"/>
<rect x="133.46" y="350.25" width="1.90" height="1.90" fill="#111"/>
<rect x="138.57" y="346.05" width="1.90" height="1.90" fill="#111"/>
<rect x="143.67" y="346.75" width="1.90" height="1.90" fill="#111"/>
<rect x="148.78" y="340.55" width="1.90" height="1.90" fill="#111"/>
<rect x="153.89" y="337.85" width="1.90" height="1.90" fill="#111"/>
<rect x="158.99" y="335.35" width="1.90" height="1.90" fill="#111"/>
<rect x="164.10" y="346.95" width="1.90" height="1.90" fill="#111"/>
<rect x="169.20" y="356.75" width="1.90" height="1.90" fill="#111"/>
<rect x="174.31" y="352.65" width="1.90" height="1.90" fill="#111"/>
<rect x="179.42" y="356.55" width="1.90" height="1.90" fill="#111"/>
<rect x="184.52" y="334.65" width="1.90" height="1.90" fill="#111"/>
<rect x="189.63" y="348.45" width="1.90" height="1.90" fill="#111"/>
<rect x="194.73" y="335.95" width="1.90" height="1.90" fill="#111"/>
<rect x="199.84" y="333.85" width="1.90" height="1.90" fill="#111"/>
<rect x="204.95" y="332.65" width="1.90" height="1.90" fill="#111"/>
<rect x="210.05" y="349.95" width="1.90" height="1.90" fill="#111"/>
<rect x="215.16" y="331.05" width="1.90" height="1.90" fill="#111"/>
<rect x="220.26" y="331.25" width="1.90" height="1.90" fill="#111"/>
<rect x="225.37" y="326.05" width="1.90" height="1.90" fill="#111"/>
<rect x="230.48" y="317.75" width="1.90" height="1.90" fill="#111"/>
<rect x="235.58" y="321.15" width="1.90" height="1.90" fill="#111"/>
<rect x="240.69" y="329.95" width="1.90" height="1.90" fill="#111"/>
<rect x="245.79" y="325.25" width="1.90" height="1.90" fill="#111"/>
<rect x="250.90" y="322.05" width="1.90" height="1.90" fill="#111"/>
<rect x="256.01" y="323.45" width="1.90" height="1.90" fill="#111"/>
<rect x="261.11" y="341.75" width="1.90" height="1.90" fill="#111"/>
<rect x="266.22" y="329.25" width="1.90" height="1.90" fill="#111"/>
<rect x="271.32" y="328.55" width="1.90" height="1.90" fill="#111"/>
<rect x="276.43" y="318.15" width="1.90" height="1.90" fill="#111"/>
<rect x="281.54" y="312.65" width="1.90" height="1.90" fill="#9a2a30"/>
<rect x="174.00" y="395.30" width="1.60" height="1.60" fill="#111"/>
<text x="180.00" y="397.40" font-size="3.5" font-weight="bold" fill="#2a2a2a" stroke="#2a2a2a" stroke-width="0.22" textLength="6.90" lengthAdjust="spacingAndGlyphs">Xbar</text>
<line x1="194.70" y1="396.10" x2="203.60" y2="396.10" stroke="#48b07c" stroke-width="0.9"/>
<text x="203.60" y="397.40" font-size="3.5" font-weight="bold" fill="#2a2a2a" stroke="#2a2a2a" stroke-width="0.22" textLength="5.50" lengthAdjust="spacingAndGlyphs">UCL</text>
<line x1="217.50" y1="396.10" x2="226.70" y2="396.10" stroke="#f0d868" stroke-width="0.9"/>
<text x="226.70" y="397.40" font-size="3.5" font-weight="bold" fill="#2a2a2a" stroke="#2a2a2a" stroke-width="0.22" textLength="6.50" lengthAdjust="spacingAndGlyphs">LCL</text>
<line x1="241.10" y1="396.10" x2="249.60" y2="396.10" stroke="#b4b4b4" stroke-width="0.9"/>
<text x="249.60" y="397.40" font-size="3.5" font-weight="bold" fill="#2a2a2a" stroke="#2a2a2a" stroke-width="0.22" textLength="3.60" lengthAdjust="spacingAndGlyphs">LC</text>
</svg></body></html>
